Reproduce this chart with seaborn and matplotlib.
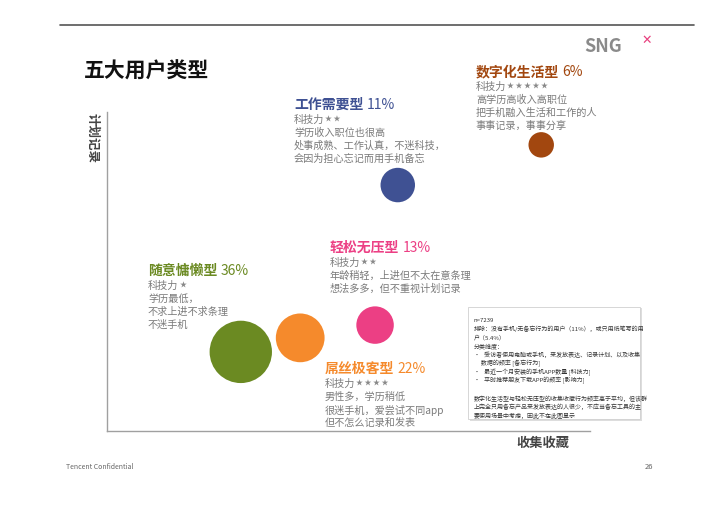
import numpy as np
import pandas as pd
import matplotlib
matplotlib.use("Agg")
import matplotlib.pyplot as plt
import seaborn as sns
from matplotlib.lines import Line2D
from matplotlib.patches import Rectangle

# user types: name, share (%), position on the map (collect x / plan y)
types = ["随意慵懒型", "屌丝极客型", "轻松无压型", "工作需要型", "数字化生活型"]
share = [36, 22, 13, 11, 6]
collect = [27.7, 40.0, 55.5, 60.2, 89.9]
plan = [24.8, 29.2, 33.2, 77.1, 89.7]
colors = ["#6b8a22", "#f58a2c", "#ec3f84", "#3f5193", "#a2470f"]

tech_stars = [1, 4, 2, 2, 5]
desc = [
    ["学历最低，", "不求上进不求条理", "不迷手机"],
    ["男性多，学历稍低", "很迷手机，爱尝试不同app", "但不怎么记录和发表"],
    ["年龄稍轻，上进但不太在意条理", "想法多多，但不重视计划记录"],
    ["学历收入职位也很高", "处事成熟、工作认真，不迷科技，", "会因为担心忘记而用手机备忘"],
    ["高学历高收入高职位", "把手机融入生活和工作的人", "事事记录，事事分享"],
]
label_px = [(148, 271), (325, 369), (330, 248), (294, 105), (476, 72)]

note_lines = [
    "n=7239",
    "排除：没有手机/无备忘行为的用户（11%），或只用纸笔写的用",
    "户（5.4%）",
    "分类维度：",
    "•   受访者使用电脑或手机，来发放表达、记录计划、以及收集",
    "     数据的频率 [备忘行为]",
    "•   最近一个月安装的手机APP数量 [科技力]",
    "•   平时推荐朋友下载APP的频率 [影响力]",
    "",
    "数字化生活型与轻松无压型的收集收藏行为频率高于平均，但该群",
    "上完全只用备忘产品来发放表达的人很少，不应当备忘工具的主",
    "要使用场景中考虑，因此不在此图显示",
]

df = pd.DataFrame({"type": types, "share": share, "x": collect, "y": plan})

sns.set_style("white")
plt.rcParams["font.family"] = ["Noto Sans CJK SC", "DejaVu Sans"]

W, H = 720, 509
fig = plt.figure(figsize=(7.2, 5.09), dpi=100)


def px(x, y):
    return x / W, 1 - y / H


ax = fig.add_axes([107 / W, 1 - 431 / H, (590 - 107) / W, (431 - 112) / H])
sns.scatterplot(data=df, x="x", y="y", hue="type", palette=dict(zip(types, colors)),
                size="share", sizes=(6 * 56, 36 * 56), size_norm=(6, 36),
                linewidth=0, legend=False, ax=ax)
ax.set_xlim(0, 100)
ax.set_ylim(0, 100)
ax.set_xticks([])
ax.set_yticks([])
ax.set_xlabel("")
ax.set_ylabel("")
for s in ["top", "right"]:
    ax.spines[s].set_visible(False)
for s in ["left", "bottom"]:
    ax.spines[s].set_color("#a0a0a0")
    ax.spines[s].set_linewidth(1.0)

# header
fig.add_artist(Line2D([60 / W, 694 / W], [1 - 25 / H, 1 - 25 / H], color="#555555", lw=1.2))
fig.text(*px(84, 71), "五大用户类型", fontsize=15, fontweight="bold", color="#111111", va="center")
fig.text(*px(584, 47), "SNG", fontsize=13, fontweight="bold", color="#8a8a8a", va="center")
fig.text(*px(641, 40), "✕", fontsize=9, fontweight="bold", color="#e8407f", va="center")

# axis titles
fig.text(*px(92, 138), "计划记录", fontsize=9, fontweight="bold", color="#444444",
         rotation=-90, ha="center", va="center")
fig.text(*px(543, 443), "收集收藏", fontsize=9.5, fontweight="bold", color="#444444",
         ha="center", va="center")

# bubble labels
fig.canvas.draw()
renderer = fig.canvas.get_renderer()
for i, name in enumerate(types):
    lx, ly = label_px[i]
    t = fig.text(*px(lx, ly), name, fontsize=10, fontweight="bold", color=colors[i], va="center")
    bb = t.get_window_extent(renderer)
    fig.text(*px(bb.x1 + 3, ly), f"{share[i]}%", fontsize=10, color=colors[i], va="center")
    tt = fig.text(*px(lx, ly + 15), "科技力", fontsize=7.3, color="#7a7a7a", va="center")
    bb = tt.get_window_extent(renderer)
    fig.text(*px(bb.x1 + 1, ly + 15), " ".join(["★"] * tech_stars[i]), fontsize=5,
             color="#8a8a8a", va="center")
    for j, line in enumerate(desc[i]):
        fig.text(*px(lx, ly + 28 + j * 13), line, fontsize=7.3, color="#7a7a7a", va="center")

# note box
fig.add_artist(Rectangle(px(470, 421), 172 / W, 113 / H, transform=fig.transFigure,
                         facecolor="#dddddd", edgecolor="none"))
fig.add_artist(Rectangle(px(468, 419), 172 / W, 112 / H, transform=fig.transFigure,
                         facecolor="white", edgecolor="#d0d0d0", lw=0.6))
for j, line in enumerate(note_lines):
    fig.text(*px(474, 320 + j * 8.7), line, fontsize=4.3, color="#333333", va="center")

# footer
fig.text(*px(66, 467), "Tencent Confidential", fontsize=5, color="#666666", va="center")
fig.text(*px(645, 467), "26", fontsize=5.5, color="#666666", va="center")

fig.savefig("out.png", dpi=100)
